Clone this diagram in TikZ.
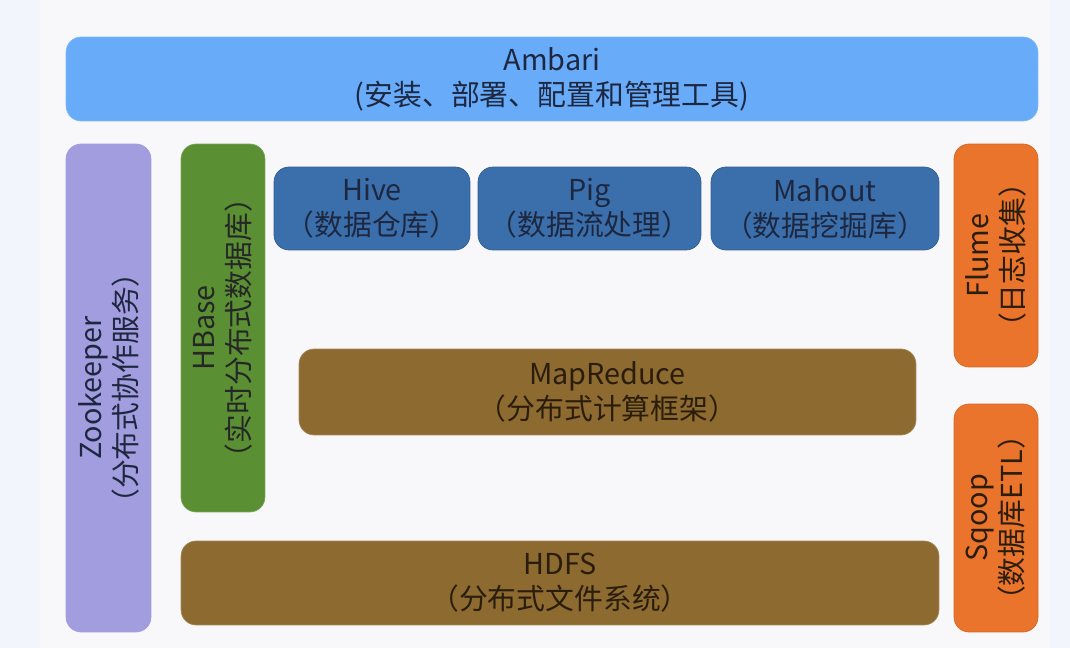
\documentclass[tikz,border=0pt]{standalone}
\usepackage{fontspec}
\setmainfont{Noto Sans CJK SC}
\usetikzlibrary{positioning}
\definecolor{pagebg}{HTML}{F8F8FB}
\definecolor{sidebg}{HTML}{F2F5FC}
\definecolor{ambariblue}{HTML}{67ABF9}
\definecolor{zoopurple}{HTML}{A29DDE}
\definecolor{hbasegreen}{HTML}{5A9033}
\definecolor{toolblue}{HTML}{3B6FAB}
\definecolor{ingestorange}{HTML}{EA742B}
\definecolor{corebrown}{HTML}{8D6A30}
\definecolor{textnavy}{HTML}{1E2740}
\definecolor{textbrown}{HTML}{2B1D0C}

\begin{document}
\begin{tikzpicture}[
  x=0.02cm, y=-0.02cm,
  layer/.style={rectangle, rounded corners=0.3cm, inner sep=0pt, align=center,
    text centered, font=\fontsize{16.4}{20}\selectfont},
  topbar/.style={layer, fill=ambariblue, draw=ambariblue!85!white, text=textnavy},
  coordbar/.style={layer, fill=zoopurple, draw=zoopurple, text=textnavy, rotate=90},
  storebar/.style={layer, fill=hbasegreen, draw=hbasegreen!80!white, text=black!85, rotate=90},
  toolbox/.style={layer, fill=toolblue, draw=toolblue!85!black, text=textnavy},
  ingestbar/.style={layer, fill=ingestorange, draw=ingestorange!90!black, text=textbrown, rotate=90},
  corebox/.style={layer, fill=corebrown, draw=corebrown!80!white, text=textbrown}
]

\fill[sidebg] (0,0) rectangle (1070,648);
\fill[pagebg] (40,0) rectangle (1050,648);
\useasboundingbox (0,0) rectangle (1070,648);

\node (ambari) [topbar, minimum width=19.44cm, minimum height=1.68cm] at (552,79)
  {Ambari\\(安装、部署、配置和管理工具)};

\node (zookeeper) [coordbar, minimum width=9.76cm, minimum height=1.7cm] at (108.5,388)
  {Zookeeper\\（分布式协作服务）};
\node (hbase) [storebar, minimum width=7.36cm, minimum height=1.68cm] at (223,328)
  {HBase\\（实时分布式数据库）};

\node (hive) [toolbox, minimum width=3.92cm, minimum height=1.66cm] at (372,208.5)
  {Hive\\（数据仓库）};
\node (pig) [toolbox, minimum width=4.46cm, minimum height=1.66cm] at (589.5,208.5)
  {Pig\\（数据流处理）};
\node (mahout) [toolbox, minimum width=4.56cm, minimum height=1.66cm] at (825,208.5)
  {Mahout\\（数据挖掘库）};

\node (flume) [ingestbar, minimum width=4.46cm, minimum height=1.68cm] at (996,255.5)
  {Flume\\（日志收集）};
\node (sqoop) [ingestbar, minimum width=4.56cm, minimum height=1.68cm] at (996,518)
  {Sqoop\\（数据库ETL）};

\node (mapreduce) [corebox, minimum width=12.34cm, minimum height=1.72cm] at (607.5,392)
  {MapReduce\\（分布式计算框架）};
\node (hdfs) [corebox, minimum width=15.16cm, minimum height=1.68cm] at (560,583)
  {HDFS\\（分布式文件系统）};

\end{tikzpicture}
\end{document}
